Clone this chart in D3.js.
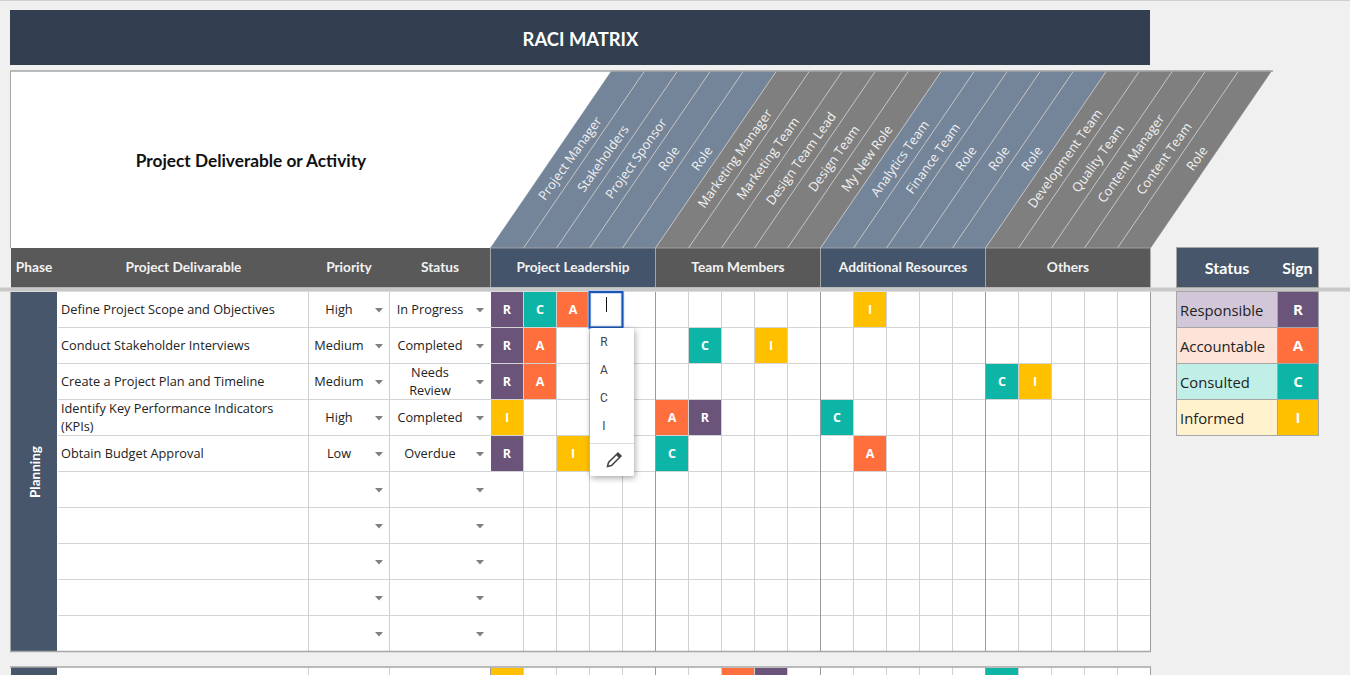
<!DOCTYPE html>
<html>
<head>
<meta charset="utf-8">
<style>
  html, body { margin: 0; padding: 0; background: #f0f0f0; overflow: hidden; }
  svg { display: block; }
  text { font-family: "Open Sans", sans-serif; }
  .head { font-family: Lato, sans-serif; font-weight: 700; fill: #f2f2f2; }
</style>
<script src="https://cdn.jsdelivr.net/npm/d3@7"></script>
</head>
<body>
<div id="my_dataviz"></div>
<script>
// Chart content
const roles = ["Project Manager", "Stakeholders", "Project Sponsor", "Role", "Role",
    "Marketing Manager", "Marketing Team", "Design Team Lead", "Design Team", "My New Role",
    "Analytics Team", "Finance Team", "Role", "Role", "Role",
    "Development Team", "Quality Team", "Content Manager", "Content Team", "Role"];
const groups = ["Project Leadership", "Team Members", "Additional Resources", "Others"];
const deliverables = ["Define Project Scope and Objectives", "Conduct Stakeholder Interviews",
    "Create a Project Plan and Timeline", "Identify Key Performance Indicators|(KPIs)",
    "Obtain Budget Approval", "", "", "", "", ""];
const priorities = ["High", "Medium", "Medium", "High", "Low", "", "", "", "", ""];
const statuses = ["In Progress", "Completed", "Needs|Review", "Completed", "Overdue", "", "", "", "", ""];
// [row, role column, sign]
const assignments = [
    [0, 0, "R"], [0, 1, "C"], [0, 2, "A"], [0, 11, "I"],
    [1, 0, "R"], [1, 1, "A"], [1, 6, "C"], [1, 8, "I"],
    [2, 0, "R"], [2, 1, "A"], [2, 15, "C"], [2, 16, "I"],
    [3, 0, "I"], [3, 5, "A"], [3, 6, "R"], [3, 10, "C"],
    [4, 0, "R"], [4, 2, "I"], [4, 5, "C"], [4, 11, "A"]
];
const nextPhaseAssignments = [[0, "I"], [7, "A"], [8, "R"], [15, "C"]];
const signs = ["R", "A", "C", "I"];
const signNames = ["Responsible", "Accountable", "Consulted", "Informed"];

const signColor = d3.scaleOrdinal().domain(signs).range(["#6b5479", "#ff6f3d", "#0db5a6", "#ffc000"]);
const signTint = d3.scaleOrdinal().domain(signs).range(["#d2c7d9", "#fde3d8", "#c0efe8", "#fff2cc"]);
const bandColor = ["#748499", "#7f7f7f"];
const groupColor = ["#44546a", "#595959"];

const width = 1350, height = 675;
var svg = d3.select("#my_dataviz")
    .append("svg")
    .attr("width", width)
    .attr("height", height);

var defs = svg.append("defs");
var shadow = defs.append("filter").attr("id", "popShadow")
    .attr("x", "-20%").attr("y", "-10%").attr("width", "150%").attr("height", "125%");
shadow.append("feDropShadow").attr("dx", 1).attr("dy", 2).attr("stdDeviation", 3)
    .attr("flood-color", "#000").attr("flood-opacity", 0.35);

// Scales
var x = d3.scaleBand().domain(d3.range(roles.length)).range([490.5, 1150.5]);
var y = d3.scaleBand().domain(d3.range(deliverables.length)).range([291.5, 651.5]);
var groupX = d3.scaleBand().domain(d3.range(groups.length)).range([490.5, 1150.5]);
const slant = 121;
const diagTop = 71, diagBottom = 248;

function hline(g, x1, x2, yy, color, w) {
    g.append("line").attr("x1", x1).attr("x2", x2).attr("y1", yy).attr("y2", yy)
        .attr("stroke", color).attr("stroke-width", w || 1);
}
function vline(g, xx, y1, y2, color, w) {
    g.append("line").attr("x1", xx).attr("x2", xx).attr("y1", y1).attr("y2", y2)
        .attr("stroke", color).attr("stroke-width", w || 1);
}
function multiline(g, str, xx, yy, anchor, lineHeight) {
    const lines = str.split("|");
    lines.forEach((line, i) => {
        g.append("text")
            .attr("x", xx)
            .attr("y", yy + (i - (lines.length - 1) / 2) * lineHeight)
            .attr("dy", "0.35em")
            .attr("text-anchor", anchor)
            .attr("font-size", 12.75)
            .attr("fill", "#222")
            .text(line);
    });
}

// Top edge and title
hline(svg, 0, width, 0.5, "#d0d0d0");
svg.append("rect").attr("x", 10).attr("y", 10).attr("width", 1140).attr("height", 55).attr("fill", "#333f50");
svg.append("text").attr("class", "head").attr("x", 580.5).attr("y", 40).attr("dy", "0.35em")
    .attr("text-anchor", "middle").attr("font-size", 18.4).style("fill", "#fff").text("RACI MATRIX");

// White title block with slanted right edge
svg.append("path")
    .attr("d", `M11,${diagTop}H${490.5 + slant}L490.5,${diagBottom}H11Z`)
    .attr("fill", "#fff");
svg.append("text").attr("class", "head").attr("x", 251).attr("y", 160.5).attr("dy", "0.35em")
    .attr("text-anchor", "middle").attr("font-size", 17.25).style("fill", "#111")
    .text("Project Deliverable or Activity");
vline(svg, 10.5, diagTop, 248, "#a6a6a6");

// Slanted role headers
var diag = svg.append("g");
diag.selectAll("path").data(roles).join("path")
    .attr("d", (d, i) => {
        const x0 = x(i), w = x.bandwidth();
        return `M${x0},${diagBottom}L${x0 + slant},${diagTop}H${x0 + slant + w}L${x0 + w},${diagBottom}Z`;
    })
    .attr("fill", (d, i) => bandColor[Math.floor(i / 5) % 2])
    .attr("stroke", (d, i) => bandColor[Math.floor(i / 5) % 2])
    .attr("stroke-width", 0.5);
diag.selectAll("line").data(d3.range(1, roles.length)).join("line")
    .attr("x1", d => x(d))
    .attr("y1", diagBottom)
    .attr("x2", d => x(d) + slant)
    .attr("y2", diagTop)
    .attr("stroke", "#c4c4c4")
    .attr("stroke-width", 1);
diag.selectAll("text").data(roles).join("text")
    .attr("transform", (d, i) => `translate(${x(i) + 79.5},158.5) rotate(-54.5)`)
    .attr("dy", "0.35em")
    .attr("text-anchor", "middle")
    .attr("font-size", 12.9)
    .attr("font-weight", 500)
    .attr("fill", "#f2f2f2")
    .text(d => d);
hline(svg, 10, 1273, diagTop, "#a6a6a6", 1.5);

// Header row
svg.append("rect").attr("x", 11).attr("y", 248).attr("width", 479.5).attr("height", 39.5).attr("fill", "#595959");
[["Phase", 34], ["Project Delivarable", 183.5], ["Priority", 349], ["Status", 440]].forEach(h => {
    svg.append("text").attr("class", "head").attr("x", h[1]).attr("y", 267).attr("dy", "0.35em")
        .attr("text-anchor", "middle").attr("font-size", 13.7).text(h[0]);
});
svg.selectAll(".groupHead").data(groups).join("rect")
    .attr("class", "groupHead")
    .attr("x", (d, i) => groupX(i))
    .attr("y", 248)
    .attr("width", groupX.bandwidth())
    .attr("height", 39.5)
    .attr("fill", (d, i) => groupColor[i % 2])
    .attr("stroke", "#b0b0b0")
    .attr("stroke-width", 0.75);
svg.selectAll(".groupLabel").data(groups).join("text")
    .attr("class", "groupLabel head")
    .attr("x", (d, i) => groupX(i) + groupX.bandwidth() / 2)
    .attr("y", 267)
    .attr("dy", "0.35em")
    .attr("text-anchor", "middle")
    .attr("font-size", 13.7)
    .text(d => d);

// Table body
svg.append("rect").attr("x", 11).attr("y", 292).attr("width", 1139.5).attr("height", 360).attr("fill", "#fff");
svg.append("rect").attr("x", 11).attr("y", 292).attr("width", 46).attr("height", 360).attr("fill", "#47566a");
svg.append("text").attr("class", "head")
    .attr("transform", "translate(35,472) rotate(-90)")
    .attr("dy", "0.35em").attr("text-anchor", "middle").attr("font-size", 13.5)
    .style("fill", "#fff").text("Planning");

var grid = svg.append("g");
d3.range(1, deliverables.length).forEach(i => hline(grid, 58, 1150.5, y(i), "#d4d4d4"));
d3.range(1, roles.length).forEach(i => vline(grid, x(i), 292, 652, "#d0d0d0"));
[308.5, 389.5].forEach(xx => vline(grid, xx, 292, 652, "#d0d0d0"));

var cells = svg.append("g");
cells.selectAll("rect").data(assignments).join("rect")
    .attr("x", d => x(d[1]) + 0.5)
    .attr("y", d => y(d[0]) + 0.5)
    .attr("width", x.bandwidth() - 1)
    .attr("height", y.bandwidth() - 1)
    .attr("fill", d => signColor(d[2]));
cells.selectAll("text").data(assignments).join("text")
    .attr("x", d => x(d[1]) + x.bandwidth() / 2)
    .attr("y", d => y(d[0]) + y.bandwidth() / 2)
    .attr("dy", "0.35em")
    .attr("text-anchor", "middle")
    .attr("font-size", 12.5)
    .attr("font-weight", 700)
    .attr("fill", "#fff")
    .text(d => d[2]);

groups.forEach((g, i) => { if (i > 0) vline(svg, groupX(i), 292, 652, "#9a9a9a"); });
vline(svg, 1150.5, 292, 652, "#9a9a9a");
vline(svg, 10.5, 292, 652, "#a6a6a6");
hline(svg, 10, 1151, 651.5, "#a6a6a6", 1.5);

var rowText = svg.append("g");
deliverables.forEach((d, i) => {
    const cy = y(i) + y.bandwidth() / 2;
    if (d) multiline(rowText, d, 61, cy, "start", 18);
    if (priorities[i]) multiline(rowText, priorities[i], 339, cy, "middle", 18);
    if (statuses[i]) multiline(rowText, statuses[i], 430, cy, "middle", 18);
    [379, 480].forEach(ax => {
        rowText.append("path")
            .attr("d", `M${ax - 4},${cy - 1.5}h8l-4,4.5Z`)
            .attr("fill", "#808080");
    });
});

// Freeze pane line
svg.append("rect").attr("x", 0).attr("y", 287.5).attr("width", width).attr("height", 4).attr("fill", "#c8c8c8");

// Start of the next phase, cut off by the window
svg.append("rect").attr("x", 11).attr("y", 667).attr("width", 1139.5).attr("height", 10).attr("fill", "#fff");
svg.append("rect").attr("x", 11).attr("y", 667).attr("width", 46).attr("height", 10).attr("fill", "#47566a");
d3.range(1, roles.length).forEach(i => vline(svg, x(i), 667, 675, "#d0d0d0"));
[308.5, 389.5].forEach(xx => vline(svg, xx, 667, 675, "#d0d0d0"));
svg.selectAll(".nextCell").data(nextPhaseAssignments).join("rect")
    .attr("class", "nextCell")
    .attr("x", d => x(d[0]) + 0.5)
    .attr("y", 668)
    .attr("width", x.bandwidth() - 1)
    .attr("height", 8)
    .attr("fill", d => signColor(d[1]));
groups.forEach((g, i) => vline(svg, groupX(i), 667, 675, "#9a9a9a"));
vline(svg, 1150.5, 667, 675, "#9a9a9a");
hline(svg, 10, 1151, 667, "#a6a6a6", 1.5);

// Selected cell with its dropdown
const selCol = 3;
svg.append("rect")
    .attr("x", x(selCol)).attr("y", 292)
    .attr("width", x.bandwidth()).attr("height", y.bandwidth() - 0.5)
    .attr("fill", "#fff").attr("stroke", "#b9d0f0").attr("stroke-width", 3.5);
svg.append("rect")
    .attr("x", x(selCol)).attr("y", 292)
    .attr("width", x.bandwidth()).attr("height", y.bandwidth() - 0.5)
    .attr("fill", "none").attr("stroke", "#1c56b5").attr("stroke-width", 2);
vline(svg, 606.5, 297, 312, "#111");

var pop = svg.append("g");
pop.append("rect").attr("x", 590).attr("y", 328).attr("width", 44).attr("height", 148)
    .attr("fill", "#fff").attr("rx", 2).attr("filter", "url(#popShadow)");
pop.selectAll("text").data(signs).join("text")
    .attr("x", 604)
    .attr("y", (d, i) => 342 + i * 28)
    .attr("dy", "0.35em")
    .attr("text-anchor", "middle")
    .attr("font-size", 12)
    .attr("font-family", "Roboto")
    .style("font-family", "Roboto")
    .attr("fill", "#444")
    .text(d => d);
hline(pop, 590, 634, 443.5, "#dcdcdc");
pop.append("path")
    .attr("d", "M607.5,466.5l1,-4l9.5,-9.5l3,3l-9.5,9.5Z")
    .attr("fill", "#fff").attr("stroke", "#444").attr("stroke-width", 1.5);
pop.append("path").attr("d", "M616,455l3,3l2,-2l-3,-3Z").attr("fill", "#444");

// Legend
svg.append("rect").attr("x", 1176.5).attr("y", 247.5).attr("width", 142).attr("height", 40)
    .attr("fill", "#47566a").attr("stroke", "#a6a6a6");
svg.append("text").attr("class", "head").attr("x", 1227).attr("y", 268).attr("dy", "0.35em")
    .attr("text-anchor", "middle").attr("font-size", 16).style("fill", "#fff").text("Status");
svg.append("text").attr("class", "head").attr("x", 1297.5).attr("y", 268).attr("dy", "0.35em")
    .attr("text-anchor", "middle").attr("font-size", 16).style("fill", "#fff").text("Sign");

var legY = d3.scaleBand().domain(signs).range([291.5, 435.5]);
var legend = svg.append("g");
legend.selectAll(".tint").data(signs).join("rect")
    .attr("class", "tint")
    .attr("x", 1176.5).attr("y", d => legY(d))
    .attr("width", 101).attr("height", legY.bandwidth())
    .attr("fill", d => signTint(d))
    .attr("stroke", "#a6a6a6");
legend.selectAll(".swatch").data(signs).join("rect")
    .attr("class", "swatch")
    .attr("x", 1277.5).attr("y", d => legY(d))
    .attr("width", 41).attr("height", legY.bandwidth())
    .attr("fill", d => signColor(d))
    .attr("stroke", "#a6a6a6");
legend.selectAll(".name").data(signNames).join("text")
    .attr("class", "name")
    .attr("x", 1180)
    .attr("y", (d, i) => legY(signs[i]) + legY.bandwidth() / 2 + 1)
    .attr("dy", "0.35em")
    .attr("font-size", 14.8)
    .attr("fill", "#222")
    .text(d => d);
legend.selectAll(".letter").data(signs).join("text")
    .attr("class", "letter")
    .attr("x", 1298)
    .attr("y", d => legY(d) + legY.bandwidth() / 2)
    .attr("dy", "0.35em")
    .attr("text-anchor", "middle")
    .attr("font-size", 15)
    .attr("font-weight", 700)
    .attr("fill", "#fff")
    .text(d => d);
</script>
</body>
</html>
